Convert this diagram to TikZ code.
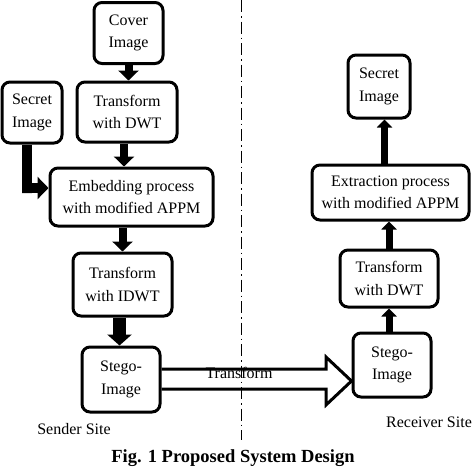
\documentclass[tikz,border=0pt]{standalone}
\usepackage{fontspec}
\setmainfont{Liberation Serif}
\usetikzlibrary{arrows.meta,calc}
\tikzset{
  blk/.style={draw, line width=3pt, rounded corners=8pt, align=center, inner sep=0pt,
    font=\fontsize{16}{22.5}\selectfont},
  flowA/.style={line width=8pt, -{Triangle[width=20pt,length=10pt]}},
  flowB/.style={line width=13pt, -{Triangle[width=24pt,length=11pt]}},
  flowR/.style={line width=7pt, -{Triangle[width=15pt,length=8pt]}},
  lbl/.style={font=\fontsize{16}{20}\selectfont, inner sep=0pt},
}
\begin{document}
\begin{tikzpicture}[x=1pt,y=-1pt]
\useasboundingbox (0,0) rectangle (474,467);
% sender side
\node[blk, minimum width=69pt, minimum height=61pt] (cover) at (128.5,33) {Cover\\Image};
\node[blk, minimum width=100pt, minimum height=60pt] (tdwt) at (127,112) {Transform\\with DWT};
\node[blk, minimum width=60pt, minimum height=61pt] (secret) at (32,112.5) {Secret\\Image};
\node[blk, minimum width=163pt, minimum height=58pt] (embed) at (131.5,197) {Embedding process\\with modified APPM};
\node[blk, minimum width=99pt, minimum height=63pt] (idwt) at (122.5,284.5) {Transform\\with IDWT};
\node[blk, minimum width=78pt, minimum height=65pt] (stego) at (121,379.5) {Stego-\\Image};
% receiver side
\node[blk, minimum width=78pt, minimum height=64pt] (rstego) at (392,365) {Stego-\\Image};
\node[blk, minimum width=98pt, minimum height=57pt] (rdwt) at (389,278.5) {Transform\\with DWT};
\node[blk, minimum width=157pt, minimum height=55pt] (extr) at (390.5,192.5) {Extraction process\\with modified APPM};
\node[blk, minimum width=62pt, minimum height=63pt] (rsecret) at (379,86.5) {Secret\\Image};
% sender arrows
\draw[flowA] (cover.south) -- (cover.south |- tdwt.north);
\draw[flowA] ([xshift=-3pt]tdwt.south) -- ([xshift=-3pt]tdwt.south |- embed.north);
\draw[flowA] (embed.south -| idwt.north) -- (idwt.north);
\draw[flowB] ([xshift=-3pt]idwt.south) -- ([xshift=-3pt]idwt.south |- stego.north);
\coordinate (sbend) at ([xshift=-5pt]secret.south |- 0,188);
\draw[line width=10pt, -{Triangle[width=22pt,length=11pt]}]
  ([xshift=-5pt]secret.south) -- ([yshift=-5pt]sbend) -- (sbend) -- (sbend -| embed.west);
% receiver arrows
\draw[flowR] (rstego.north -| rdwt.south) -- (rdwt.south);
\draw[flowR] (rdwt.north) -- (rdwt.north |- extr.south);
\draw[flowR] ([xshift=-6pt]extr.north) -- ([xshift=-6pt]extr.north |- rsecret.south);
% big outline transmission arrow
\coordinate (bstart) at (stego.east |- 0,369);
\coordinate (btip) at (rstego.west |- 0,381);
\draw[line width=3pt, line join=miter]
  (bstart) -- (326,369) -- (326,357) -- (btip) -- (326,405) -- (326,389) -- (stego.east |- 0,389);
\node[lbl] (tlab) at (239,373) {Transform};
% divider
\draw[line width=1pt, dash pattern=on 12pt off 4pt on 1.5pt off 4pt] (241,0) coordinate (dtop) -- (241,440) coordinate (dbot);
% labels
\node[lbl] (send) at (74,429) {Sender Site};
\node[lbl] (recv) at (429,422) {Receiver Site};
\node[font=\fontsize{18.5}{22}\selectfont\bfseries, inner sep=0pt] (title) at (233,458) {Fig. 1 Proposed System Design};
\end{tikzpicture}
\end{document}
